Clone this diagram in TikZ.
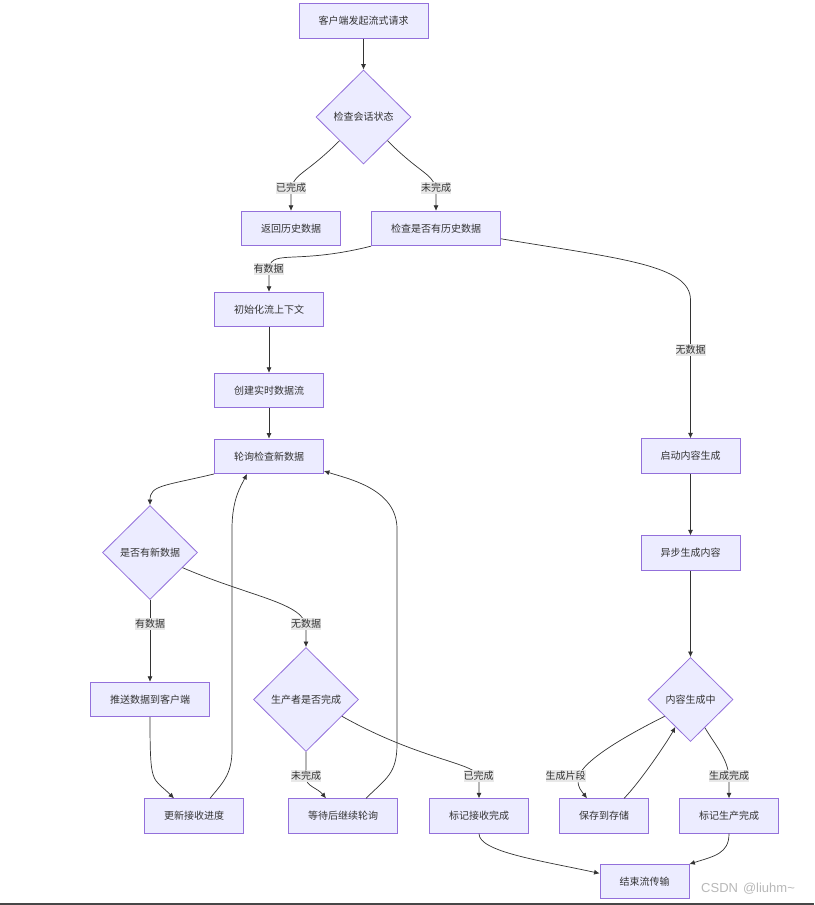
\documentclass[tikz,border=0pt]{standalone}
\usepackage{fontspec}
\setmainfont{Noto Sans CJK SC}
\newfontfamily\markfont{Liberation Sans}
\usepackage{xcolor}
\usepackage{tikz}
\usetikzlibrary{calc}
\usetikzlibrary{arrows.meta}
\usetikzlibrary{shapes.geometric}
\usetikzlibrary{positioning}
\definecolor{boxfill}{HTML}{ECECFF}
\definecolor{boxline}{HTML}{9370DB}
\definecolor{ink}{HTML}{333333}
\definecolor{tagfill}{HTML}{E8E8E8}
\tikzset{>={Latex[length=5.5pt,width=5pt]}}
\tikzstyle{proc} = [rectangle, draw=boxline, fill=boxfill, line width=0.8pt, inner xsep=19.5pt, minimum height=34.5pt, text=ink, font=\fontsize{10}{12}\selectfont]
\tikzstyle{ask} = [diamond, aspect=1, draw=boxline, fill=boxfill, line width=0.8pt, inner sep=0pt, text=ink, font=\fontsize{10}{12}\selectfont]
\tikzstyle{flow} = [->, draw=ink, line width=0.7pt]
\tikzstyle{tag} = [fill=tagfill, inner xsep=0pt, inner ysep=1.5pt, text=ink, font=\fontsize{10}{12}\selectfont]

\begin{document}
\begin{tikzpicture}[x=1pt, y=-1pt]
\useasboundingbox (0,0) rectangle (814,905);
% left and middle
\node [proc] (Req) at (363.5, 21) {客户端发起流式请求};
\node [ask, minimum width=95pt, minimum height=94pt] (Sess) at (363.5, 117) {检查会话状态};
\node [proc] (Back) at (291, 228.5) {返回历史数据};
\node [proc] (Hist) at (436, 228.5) {检查是否有历史数据};
\node [proc] (Init) at (269, 309.5) {初始化流上下文};
\node [proc] (Live) at (269, 390.5) {创建实时数据流};
\node [proc] (Poll) at (269, 456.3) {轮询检查新数据};
\node [ask, minimum width=95pt, minimum height=94pt] (NewQ) at (150, 552.5) {是否有新数据};
\node [proc] (Push) at (150, 699.5) {推送数据到客户端};
\node [ask, minimum width=105pt, minimum height=104pt] (Prod) at (306, 699.5) {生产者是否完成};
\node [proc] (Upd) at (194, 816) {更新接收进度};
\node [proc] (Wait) at (343, 816) {等待后继续轮询};
\node [proc] (RecvDone) at (479, 816) {标记接收完成};
% right
\node [proc] (Gen) at (690.5, 456) {启动内容生成};
\node [proc] (Async) at (690.5, 553) {异步生成内容};
\node [ask, minimum width=85pt, minimum height=84pt] (Busy) at (690.5, 699.5) {内容生成中};
\node [proc] (Save) at (604, 816) {保存到存储};
\node [proc] (ProdDone) at (729, 816) {标记生产完成};
\node [proc] (End) at (644.5, 881.3) {结束流传输};

\draw [flow] (Req) to (Sess);
\draw [flow] (Sess.south west) .. controls +(-38,38) and +(0,-22) .. (291,195) -- (Back.north);
\node [tag] (tDone1) at (291,188) {已完成};
\draw [flow] (Sess.south east) .. controls +(38,38) and +(0,-22) .. (436,195) -- (Hist.north);
\node [tag] (tTodo1) at (436,188) {未完成};
\draw [flow] (Hist.south west) .. controls +(-80,20) and +(0,-25) .. (269,272) -- (Init.north);
\node [tag] (tHas1) at (268.5,269) {有数据};
\draw [flow] (Hist.-9) .. controls +(120,20) and +(0,-35) .. (690.5,300) -- (Gen.north);
\node [tag] (tNone1) at (690.5,350) {无数据};
\draw [flow] (Init) to (Live);
\draw [flow] (Live) to (Poll);
\draw [flow] (Poll.south west) .. controls +(-50,12) and +(0,-20) .. (NewQ.north);
\draw [flow] (NewQ.south) -- (Push.north);
\node [tag] (tHas2) at (150,624) {有数据};
\draw [flow] (NewQ.-25) .. controls +(70,30) and +(0,-25) .. (306,628) -- (Prod.north);
\node [tag] (tNone2) at (306,624) {无数据};
\draw [flow] (Push.south) .. controls +(0,70) and +(-22,-22) .. ([xshift=-20pt]Upd.north);
\draw [flow] ([xshift=16pt]Upd.north) .. controls +(12,-15) and +(0,25) .. (232,750) -- (232,529) .. controls +(0,-30) and +(-6,12) .. ([xshift=-22pt]Poll.south);
\draw [flow] (Prod.south) -- (306,778) .. controls +(0,8) and +(-8,-10) .. ([xshift=-17pt]Wait.north);
\node [tag] (tTodo2) at (306,776) {未完成};
\draw [flow] ([xshift=23pt]Wait.north) .. controls +(20,-20) and +(0,30) .. (397,744) -- (397,529) .. controls +(0,-40) and +(25,8) .. (Poll.-15);
\draw [flow] (Prod.-25) .. controls +(80,45) and +(0,-15) .. (479,778) -- (RecvDone.north);
\node [tag] (tDone2) at (478.5,776) {已完成};
\draw [flow] (RecvDone.south) .. controls +(0,18) and +(-60,-13) .. (End.170);
\draw [flow] (Gen) to (Async);
\draw [flow] (Async) to (Busy);
\draw [flow] (Busy.-147) .. controls +(-50,25) and +(0,-15) .. (578,780) .. controls +(0,8) and +(-6,-8) .. ([xshift=-17pt]Save.north);
\node [tag] (tPart) at (565.5,776) {生成片段};
\draw [flow] ([xshift=20pt]Save.north) .. controls +(15,-15) and +(-8,15) .. (Busy.-119);
\draw [flow] (Busy.-63) .. controls +(12,20) and +(0,-20) .. (729,780) -- (ProdDone.north);
\node [tag] (tFin) at (729,776) {生成完成};
\draw [flow] (ProdDone.south) .. controls +(0,20) and +(25,-8) .. (End.21);

\node [anchor=west, inner sep=0pt, text=black!28, font=\markfont\fontsize{13}{15}\selectfont] (mark) at (701, 889) {CSDN\hspace{5pt}@liuhm\textasciitilde};
\fill [black!72] (0,903.3) rectangle (814,905);
\end{tikzpicture}
\end{document}
